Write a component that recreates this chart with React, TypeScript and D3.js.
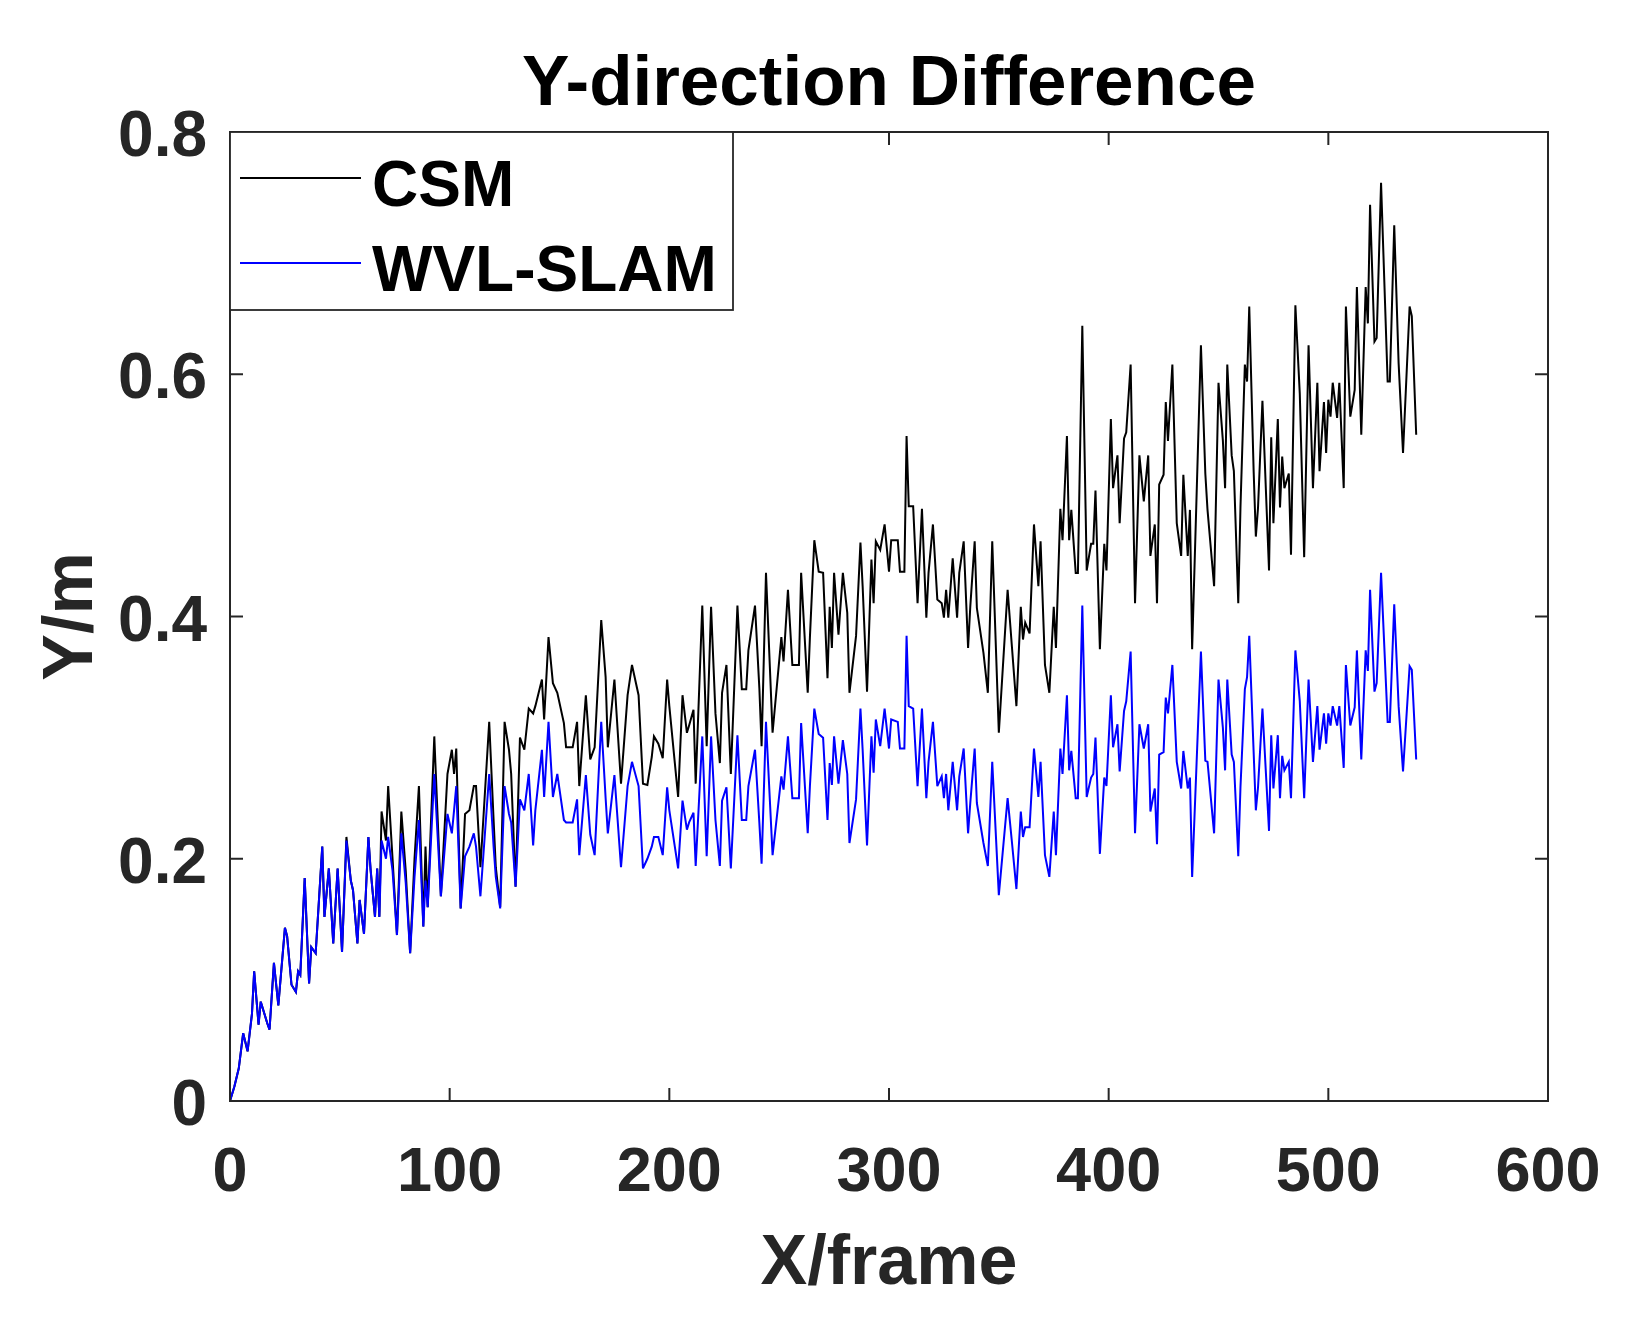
import { useEffect, useRef } from "react";
import * as d3 from "d3";

// ── Data (frame index, Y difference in metres) ────────────────────────────────

const frames = [
  0, 2, 4, 6, 8, 10, 11, 13, 14, 17,
  18, 20, 22, 25, 26, 28, 30, 31, 32, 34,
  36, 37, 39, 42, 43, 45, 47, 49, 51, 53,
  55, 56, 58, 59, 61, 63, 64, 66, 67, 68,
  69, 71, 72, 74, 76, 78, 80, 82, 84, 86,
  88, 89, 90, 93, 96, 99, 101, 102, 103, 105,
  107, 109, 111, 112, 114, 118, 120, 121, 123, 125,
  127, 128, 130, 132, 134, 136, 138, 139, 142, 143,
  145, 147, 149, 152, 153, 156, 158, 159, 162, 164,
  166, 169, 171, 172, 175, 178, 181, 183, 186, 188,
  190, 192, 193, 195, 197, 199, 200, 204, 206, 208,
  209, 211, 212, 215, 217, 219, 221, 223, 224, 226,
  228, 231, 233, 235, 236, 239, 241, 242, 244, 247,
  251, 252, 254, 256, 259, 260, 263, 264, 266, 268,
  270, 272, 273, 274, 275, 277, 279, 281, 282, 285,
  287, 288, 290, 292, 293, 294, 296, 298, 300, 301,
  304, 305, 307, 308, 309, 311, 313, 315, 317, 318,
  320, 322, 324, 325, 326, 327, 329, 331, 332, 334,
  336, 337, 339, 340, 343, 345, 347, 350, 354, 356,
  358, 360, 361, 362, 364, 366, 368, 369, 371, 373,
  375, 376, 378, 379, 381, 382, 383, 385, 386, 388,
  390, 392, 393, 394, 396, 398, 399, 401, 402, 404,
  405, 407, 408, 410, 412, 414, 416, 418, 419, 421,
  422, 423, 425, 426, 427, 429, 431, 433, 434, 436,
  437, 438, 442, 444, 445, 448, 450, 452, 453, 454,
  456, 457, 459, 460, 462, 463, 464, 466, 467, 468,
  470, 473, 474, 475, 477, 478, 479, 480, 482, 483,
  485, 487, 489, 491, 493, 495, 496, 498, 499, 500,
  501, 502, 504, 505, 507, 508, 510, 512, 513, 515,
  517, 518, 519, 521, 522, 524, 527, 528, 530, 532,
  534, 537, 538, 540,
];

const csm = [
  0, 0.012, 0.027, 0.056, 0.041, 0.072, 0.107, 0.063, 0.082, 0.064,
  0.059, 0.114, 0.079, 0.143, 0.136, 0.096, 0.09, 0.107, 0.104, 0.184,
  0.097, 0.127, 0.122, 0.21, 0.152, 0.192, 0.13, 0.192, 0.123, 0.218,
  0.182, 0.174, 0.13, 0.166, 0.138, 0.218, 0.191, 0.152, 0.192, 0.152,
  0.239, 0.215, 0.26, 0.2, 0.137, 0.239, 0.19, 0.122, 0.2, 0.26,
  0.144, 0.21, 0.16, 0.301, 0.169, 0.27, 0.29, 0.27, 0.291, 0.159,
  0.237, 0.24, 0.26, 0.26, 0.193, 0.313, 0.232, 0.193, 0.16, 0.313,
  0.29, 0.27, 0.177, 0.3, 0.29, 0.324, 0.32, 0.326, 0.348, 0.315,
  0.383, 0.345, 0.337, 0.312, 0.292, 0.292, 0.313, 0.26, 0.335, 0.282,
  0.292, 0.397, 0.35, 0.292, 0.348, 0.262, 0.335, 0.36, 0.335, 0.262,
  0.261, 0.284, 0.301, 0.295, 0.283, 0.348, 0.326, 0.251, 0.335, 0.304,
  0.31, 0.323, 0.262, 0.409, 0.293, 0.408, 0.32, 0.279, 0.337, 0.36,
  0.27, 0.409, 0.34, 0.34, 0.372, 0.409, 0.34, 0.293, 0.436, 0.304,
  0.383, 0.363, 0.422, 0.36, 0.36, 0.436, 0.337, 0.383, 0.463, 0.437,
  0.436, 0.349, 0.408, 0.374, 0.436, 0.385, 0.436, 0.403, 0.337, 0.384,
  0.461, 0.425, 0.338, 0.447, 0.411, 0.462, 0.455, 0.476, 0.437, 0.463,
  0.463, 0.437, 0.437, 0.549, 0.491, 0.491, 0.411, 0.489, 0.399, 0.436,
  0.476, 0.414, 0.411, 0.399, 0.422, 0.399, 0.448, 0.399, 0.436, 0.462,
  0.374, 0.408, 0.462, 0.407, 0.37, 0.337, 0.462, 0.304, 0.422, 0.374,
  0.326, 0.408, 0.381, 0.395, 0.386, 0.476, 0.425, 0.462, 0.36, 0.337,
  0.408, 0.374, 0.489, 0.463, 0.549, 0.463, 0.488, 0.436, 0.436, 0.64,
  0.438, 0.46, 0.46, 0.504, 0.373, 0.46, 0.438, 0.563, 0.506, 0.533,
  0.477, 0.547, 0.552, 0.608, 0.411, 0.533, 0.495, 0.533, 0.45, 0.476,
  0.411, 0.509, 0.517, 0.577, 0.545, 0.608, 0.477, 0.45, 0.517, 0.45,
  0.488, 0.373, 0.624, 0.518, 0.488, 0.425, 0.593, 0.545, 0.506, 0.608,
  0.533, 0.52, 0.411, 0.49, 0.608, 0.594, 0.656, 0.52, 0.466, 0.49,
  0.578, 0.438, 0.548, 0.477, 0.563, 0.49, 0.532, 0.506, 0.518, 0.451,
  0.657, 0.584, 0.449, 0.624, 0.506, 0.593, 0.52, 0.577, 0.535, 0.579,
  0.565, 0.593, 0.564, 0.593, 0.506, 0.656, 0.565, 0.587, 0.672, 0.55,
  0.672, 0.642, 0.74, 0.627, 0.63, 0.758, 0.594, 0.594, 0.723, 0.609,
  0.535, 0.656, 0.648, 0.55,
];

const wvl = [
  0, 0.012, 0.027, 0.056, 0.041, 0.072, 0.107, 0.063, 0.082, 0.064,
  0.059, 0.114, 0.079, 0.143, 0.136, 0.096, 0.09, 0.107, 0.104, 0.184,
  0.097, 0.127, 0.122, 0.21, 0.152, 0.192, 0.13, 0.192, 0.123, 0.215,
  0.182, 0.174, 0.13, 0.166, 0.138, 0.218, 0.191, 0.152, 0.192, 0.152,
  0.215, 0.2, 0.218, 0.19, 0.137, 0.221, 0.18, 0.122, 0.185, 0.232,
  0.144, 0.182, 0.16, 0.27, 0.169, 0.237, 0.221, 0.24, 0.26, 0.159,
  0.202, 0.21, 0.221, 0.21, 0.169, 0.27, 0.21, 0.185, 0.159, 0.26,
  0.237, 0.23, 0.177, 0.249, 0.24, 0.27, 0.211, 0.24, 0.29, 0.251,
  0.313, 0.251, 0.27, 0.232, 0.23, 0.23, 0.249, 0.203, 0.269, 0.22,
  0.203, 0.313, 0.25, 0.221, 0.269, 0.193, 0.26, 0.28, 0.26, 0.192,
  0.2, 0.21, 0.218, 0.218, 0.203, 0.259, 0.24, 0.192, 0.248, 0.224,
  0.23, 0.238, 0.194, 0.301, 0.202, 0.301, 0.232, 0.194, 0.248, 0.259,
  0.192, 0.302, 0.232, 0.232, 0.26, 0.29, 0.229, 0.196, 0.313, 0.203,
  0.268, 0.257, 0.301, 0.25, 0.25, 0.312, 0.221, 0.26, 0.324, 0.303,
  0.3, 0.232, 0.279, 0.261, 0.301, 0.262, 0.298, 0.27, 0.213, 0.249,
  0.324, 0.29, 0.211, 0.301, 0.271, 0.315, 0.293, 0.324, 0.291, 0.315,
  0.313, 0.291, 0.291, 0.384, 0.326, 0.324, 0.26, 0.324, 0.25, 0.28,
  0.313, 0.26, 0.268, 0.25, 0.27, 0.24, 0.28, 0.24, 0.268, 0.291,
  0.221, 0.246, 0.291, 0.246, 0.213, 0.194, 0.28, 0.17, 0.25, 0.213,
  0.175, 0.239, 0.218, 0.226, 0.226, 0.291, 0.251, 0.28, 0.203, 0.185,
  0.239, 0.203, 0.291, 0.27, 0.335, 0.273, 0.289, 0.25, 0.25, 0.409,
  0.251, 0.267, 0.27, 0.3, 0.204, 0.267, 0.26, 0.335, 0.292, 0.311,
  0.272, 0.322, 0.33, 0.371, 0.221, 0.311, 0.291, 0.311, 0.239, 0.258,
  0.212, 0.286, 0.288, 0.333, 0.32, 0.36, 0.28, 0.258, 0.289, 0.258,
  0.267, 0.185, 0.371, 0.281, 0.28, 0.221, 0.348, 0.308, 0.273, 0.348,
  0.286, 0.28, 0.202, 0.259, 0.34, 0.35, 0.384, 0.288, 0.24, 0.259,
  0.324, 0.223, 0.302, 0.258, 0.302, 0.25, 0.285, 0.273, 0.28, 0.25,
  0.372, 0.33, 0.25, 0.348, 0.28, 0.326, 0.29, 0.32, 0.295, 0.32,
  0.31, 0.326, 0.31, 0.326, 0.275, 0.36, 0.31, 0.325, 0.372, 0.282,
  0.372, 0.355, 0.422, 0.338, 0.345, 0.436, 0.313, 0.313, 0.41, 0.326,
  0.272, 0.359, 0.356, 0.282,
];

const xTicks = [0, 100, 200, 300, 400, 500, 600];
const yTicks = [0, 0.2, 0.4, 0.6, 0.8];
const yTickLabels = ["0", "0.2", "0.4", "0.6", "0.8"];
const seriesNames = ["CSM", "WVL-SLAM"];
const seriesColors = ["#000000", "#0000ff"];

const W = 1628;
const H = 1336;
const FONT = "'Liberation Sans', Arial, Helvetica, sans-serif";
const AXIS = "#262626";

export default function App() {
  const svgRef = useRef<SVGSVGElement>(null);

  useEffect(() => {
    document.body.style.margin = "0";
    if (!svgRef.current) return;
    const svg = d3.select(svgRef.current);
    svg.selectAll("*").remove();

    const margin = { top: 132, right: 80, bottom: 235, left: 230 };
    const x0 = margin.left;
    const x1 = W - margin.right;
    const y0 = H - margin.bottom;
    const y1 = margin.top;

    const x = d3.scaleLinear().domain([0, 600]).range([x0, x1]);
    const y = d3.scaleLinear().domain([0, 0.8]).range([y0, y1]);

    svg.append("rect").attr("width", W).attr("height", H).attr("fill", "#fff");

    // ── Series ──────────────────────────────────────────────────────────────
    const series = [csm, wvl];
    series.forEach((vals, i) => {
      const pts = frames.map((f, k) => [f, vals[k]] as [number, number]);
      const line = d3.line<[number, number]>()
        .x((d) => x(d[0]))
        .y((d) => y(d[1]));
      svg.append("path").datum(pts)
        .attr("fill", "none")
        .attr("stroke", seriesColors[i])
        .attr("stroke-width", 2)
        .attr("stroke-linejoin", "miter")
        .attr("d", line);
    });

    // ── Axes box + inward ticks ─────────────────────────────────────────────
    const tick = 13;
    const g = svg.append("g").attr("stroke", AXIS).attr("stroke-width", 2);
    g.append("rect")
      .attr("x", x0).attr("y", y1)
      .attr("width", x1 - x0).attr("height", y0 - y1)
      .attr("fill", "none");
    xTicks.forEach((t) => {
      g.append("line").attr("x1", x(t)).attr("x2", x(t)).attr("y1", y0).attr("y2", y0 - tick);
      g.append("line").attr("x1", x(t)).attr("x2", x(t)).attr("y1", y1).attr("y2", y1 + tick);
    });
    yTicks.forEach((t) => {
      g.append("line").attr("x1", x0).attr("x2", x0 + tick).attr("y1", y(t)).attr("y2", y(t));
      g.append("line").attr("x1", x1).attr("x2", x1 - tick).attr("y1", y(t)).attr("y2", y(t));
    });

    // ── Tick labels ─────────────────────────────────────────────────────────
    const txt = svg.append("g")
      .attr("font-family", FONT).attr("font-weight", "bold").attr("fill", "#262626");

    xTicks.forEach((t) => {
      txt.append("text")
        .attr("x", x(t)).attr("y", y0 + 90)
        .attr("text-anchor", "middle").attr("font-size", 63)
        .text(String(t));
    });
    yTicks.forEach((t, i) => {
      txt.append("text")
        .attr("x", x0 - 23).attr("y", y(t) + 24)
        .attr("text-anchor", "end").attr("font-size", 64)
        .text(yTickLabels[i]);
    });

    // ── Titles ──────────────────────────────────────────────────────────────
    const cx = (x0 + x1) / 2;
    txt.append("text")
      .attr("x", cx).attr("y", 105)
      .attr("text-anchor", "middle").attr("font-size", 71).attr("fill", "#000")
      .text("Y-direction Difference");
    txt.append("text")
      .attr("x", cx).attr("y", 1284)
      .attr("text-anchor", "middle").attr("font-size", 70)
      .text("X/frame");
    txt.append("text")
      .attr("transform", `translate(92,${(y0 + y1) / 2}) rotate(-90)`)
      .attr("text-anchor", "middle").attr("font-size", 70)
      .text("Y/m");

    // ── Legend ──────────────────────────────────────────────────────────────
    const leg = svg.append("g");
    leg.append("rect")
      .attr("x", x0).attr("y", y1)
      .attr("width", 503).attr("height", 178)
      .attr("fill", "#fff").attr("stroke", AXIS).attr("stroke-width", 1.8);
    seriesNames.forEach((name, i) => {
      const ly = y1 + 46 + i * 85;
      leg.append("line")
        .attr("x1", x0 + 10).attr("x2", x0 + 131)
        .attr("y1", ly).attr("y2", ly)
        .attr("stroke", seriesColors[i]).attr("stroke-width", 1.8);
      leg.append("text")
        .attr("x", x0 + 142).attr("y", ly + 28)
        .attr("font-family", FONT).attr("font-weight", "bold")
        .attr("font-size", 64).attr("fill", "#000")
        .text(name);
    });
  }, []);

  return (
    <svg
      ref={svgRef}
      width={W}
      height={H}
      style={{ display: "block", position: "absolute", left: 0, top: 0 }}
    />
  );
}
